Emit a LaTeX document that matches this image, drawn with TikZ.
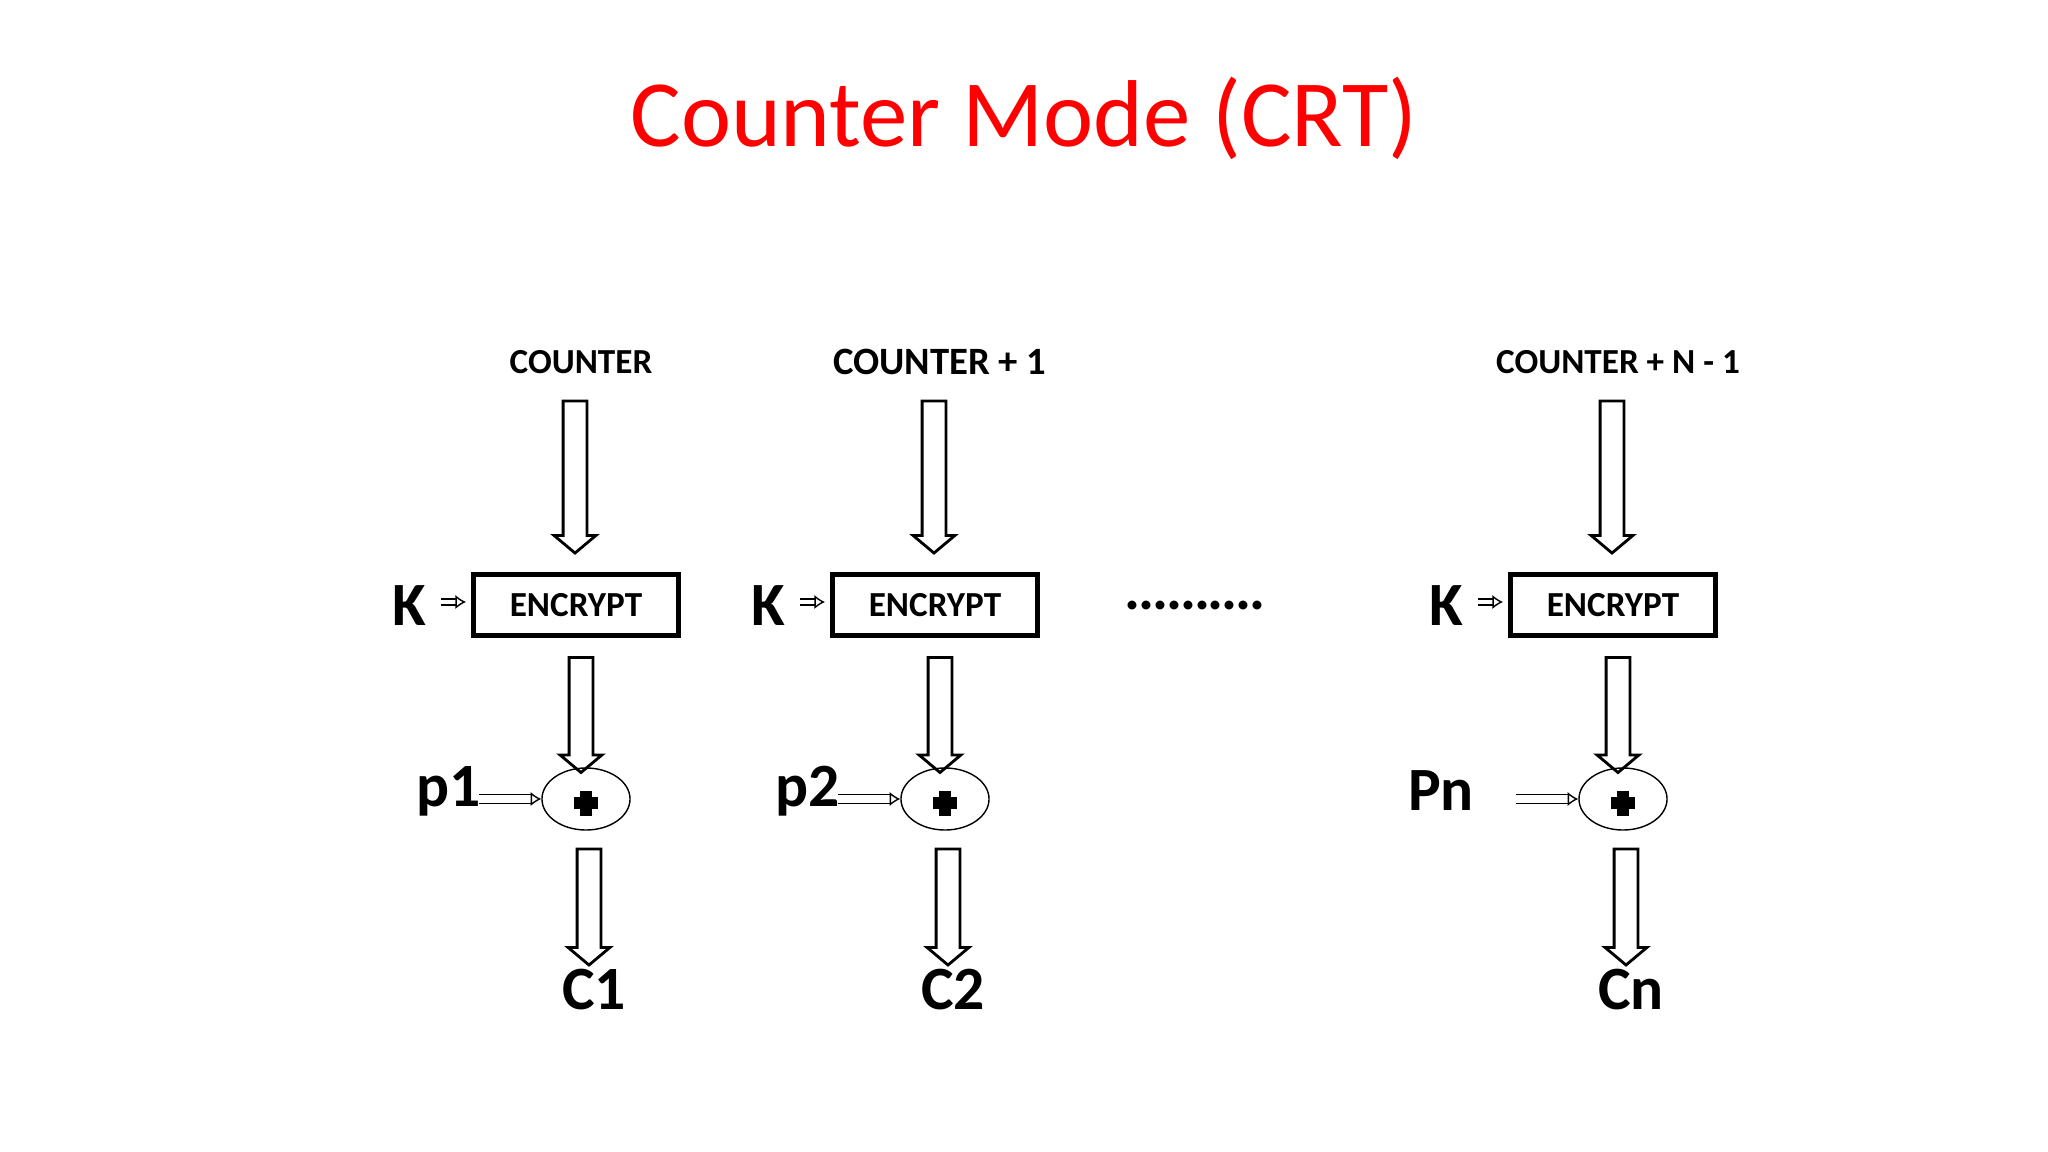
\documentclass[tikz,border=0pt]{standalone}
\usepackage{fontspec}
\setmainfont{Carlito}
\usetikzlibrary{shapes.arrows,shapes.geometric,arrows.meta}
\begin{document}
\begin{tikzpicture}[x=0.01cm,y=-0.01cm,
  harrow/.style={draw,thick,fill=white,single arrow,shape border rotate=270,single arrow head extend=0.09cm,inner sep=0.105cm,single arrow tip angle=100},
  enc/.style={draw,line width=1.6pt,minimum width=2.05cm,minimum height=0.61cm,font=\bfseries\fontsize{10}{12}\selectfont},
  xorn/.style={draw,ellipse,minimum width=0.88cm,minimum height=0.62cm,inner sep=0pt},
  big/.style={font=\bfseries\fontsize{17.5}{20}\selectfont},
  small/.style={font=\bfseries\fontsize{10}{12}\selectfont},
  karrow/.style={double,double distance=1.2pt,-{Latex[open,length=3pt,width=4pt]},thin},
]
\useasboundingbox (0,0) rectangle (2048,1152);
\node[red,font=\fontsize{27}{32}\selectfont] (title) at (1024,118) {Counter Mode (CRT)};
\foreach \i/\dx/\ctr/\p/\c/\px in {1/0/{COUNTER}/p1/C1/449, 2/359/{\fontsize{11}{13}\selectfont COUNTER + 1}/p2/C2/449, 3/1037/{COUNTER + N - 1}/Pn/Cn/404}{
  \begin{scope}[xshift=\dx*0.01cm]
  \node[small] (ctr\i) at (581,362) {\ctr};
  \node[harrow,minimum height=1.52cm] (a\i) at (575,472) {};
  \node[enc] (enc\i) at (576,605) {ENCRYPT};
  \node[big] (k\i) at (409,606) {K};
  \coordinate (ks\i) at (441,602);
  \coordinate (ke\i) at (466,602);
  \draw[karrow] (ks\i) -- (ke\i);
  \node[harrow,minimum height=1.15cm] (b\i) at (581,710) {};
  \node[xorn] (x\i) at (586,799) {};
  \draw[line width=3.6pt] ([xshift=-0.12cm,yshift=-0.04cm]x\i.center) -- ([xshift=0.12cm,yshift=-0.04cm]x\i.center)
       ([yshift=0.08cm]x\i.center) -- ([yshift=-0.17cm]x\i.center);
  \node[big] (p\i) at (\px,791) {\p};
  \node[harrow,minimum height=1.16cm] (c\i) at (589,902) {};
  \node[big] (cc\i) at (594,990) {\c};
  \end{scope}
}
\coordinate (ps1) at (479,799); \coordinate (ps2) at (838,799); \coordinate (ps3) at (1516,799);
\foreach \i in {1,2,3}{\draw[karrow,double distance=2pt] (ps\i) -- (x\i.west);}
\node[font=\bfseries\fontsize{17}{20}\selectfont] (dots) at (1196,606) {\kern-0.5pt .\kern-0.6pt.\kern-0.6pt.\kern-0.6pt.\kern-0.6pt.\kern-0.6pt.\kern-0.6pt.\kern-0.6pt.\kern-0.6pt.\kern-0.6pt.};
\end{tikzpicture}
\end{document}
